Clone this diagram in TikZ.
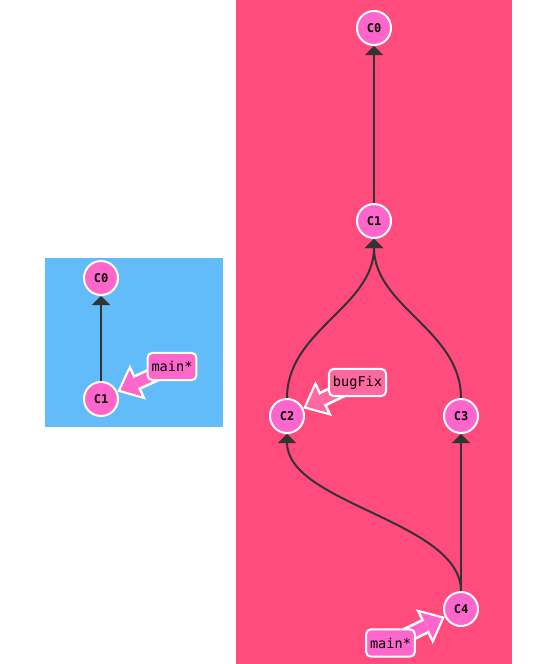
\documentclass[tikz,border=0pt]{standalone}
\usepackage{fontspec}
\setmonofont{DejaVu Sans Mono}
\usetikzlibrary{arrows.meta}
\definecolor{panelblue}{RGB}{97,188,249}
\definecolor{panelpink}{RGB}{255,76,124}
\definecolor{commitpink}{RGB}{255,102,204}
\definecolor{fixpink}{RGB}{255,105,160}
\definecolor{edgegrey}{RGB}{51,51,51}

\tikzset{
  commit/.style={circle, draw=white, line width=1.5pt, fill=commitpink, minimum size=25.5pt, inner sep=0pt, font=\ttfamily\bfseries\fontsize{9}{10}\selectfont},
  branch/.style={rounded corners=3.75pt, draw=white, line width=1.5pt, fill=#1, minimum height=20.5pt, inner xsep=3pt, inner ysep=0pt, font=\ttfamily\fontsize{10.2}{11}\selectfont},
  parent/.style={draw=edgegrey, line width=1.5pt, -{Triangle[length=6.75pt,width=13.5pt]}},
  ptrout/.style={draw=white, line width=12pt, -{Triangle[length=17pt,width=29pt,line width=0pt]}},
  ptrin/.style={draw=#1, line width=8pt, shorten >=2.6pt, -{Triangle[length=12.5pt,width=21.5pt,line width=0pt]}},
}

\begin{document}
\begin{tikzpicture}[x=0.75pt,y=0.75pt,yscale=-1,xscale=1]
\useasboundingbox (0,0) rectangle (554,664);
% Panels
\fill[panelblue] (45,258) rectangle (223,427);
\fill[panelpink] (236,0) rectangle (512,664);

% Left repository
\node[commit] (a0) at (101,278) {C0};
\node[commit] (a1) at (101,399) {C1};
\draw[parent] (a1) -- (a0);
% Branch pointer
\coordinate (m0) at (172,366.5);
\draw[ptrout] (m0) -- (a1);
\draw[ptrin=commitpink] (m0) -- (a1);
\node[branch=commitpink] (main0) at (m0) {main*};

% Right repository
\node[commit] (c0) at (374,28) {C0};
\node[commit] (c1) at (374,221) {C1};
\node[commit] (c2) at (287,416) {C2};
\node[commit] (c3) at (461,416) {C3};
\node[commit] (c4) at (461,609) {C4};
\draw[parent] (c1) -- (c0);
\draw[parent] (c2.north) .. controls +(0,-68) and +(0,68) .. (c1.south);
\draw[parent] (c3.north) .. controls +(0,-68) and +(0,68) .. (c1.south);
\draw[parent] (c4.north) .. controls +(0,-70) and +(0,70) .. (c2.south);
\draw[parent] (c4) -- (c3);
% Branch pointers
\coordinate (b0) at (357.5,382.5);
\draw[ptrout] (b0) -- (c2);
\draw[ptrin=fixpink] (b0) -- (c2);
\node[branch=fixpink] (bugfix) at (b0) {bugFix};
\coordinate (m1) at (390.5,643);
\draw[ptrout] (m1) -- (c4);
\draw[ptrin=commitpink] (m1) -- (c4);
\node[branch=commitpink] (main1) at (m1) {main*};
\end{tikzpicture}
\end{document}
